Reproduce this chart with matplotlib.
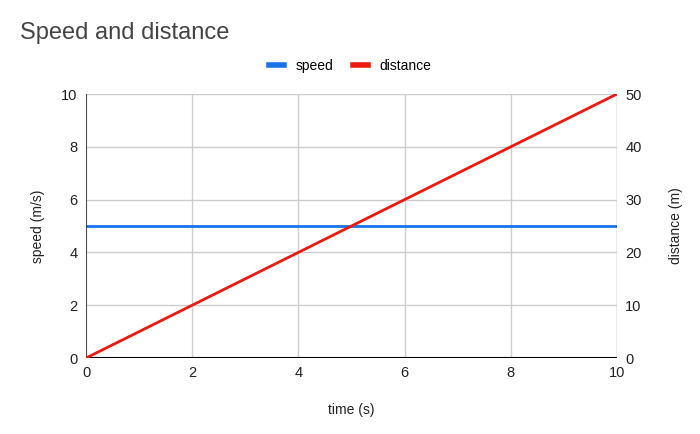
import matplotlib.pyplot as plt
from matplotlib.lines import Line2D

plt.rcParams['font.family'] = ['Liberation Sans', 'DejaVu Sans']

# Data
time_s = [0, 1, 2, 3, 4, 5, 6, 7, 8, 9, 10]
speed = [5, 5, 5, 5, 5, 5, 5, 5, 5, 5, 5]  # m/s
distance = [0, 5, 10, 15, 20, 25, 30, 35, 40, 45, 50]  # m

x_ticks = [0, 2, 4, 6, 8, 10]
left_ticks = [0, 2, 4, 6, 8, 10]
right_ticks = [0, 10, 20, 30, 40, 50]

blue = '#1a73e8'
red = '#ea1a0f'
text_col = '#222222'

fig = plt.figure(figsize=(7, 4.34), dpi=100)
ax = fig.add_axes([0.1229, 0.1751, 0.7585, 0.6083])
ax2 = ax.twinx()

ax.plot(time_s, speed, color=blue, lw=2, zorder=3)
ax2.plot(time_s, distance, color=red, lw=2, zorder=3)

ax.set_xlim(0, 10)
ax.set_ylim(0, 10)
ax2.set_ylim(0, 50)
ax.set_xticks(x_ticks)
ax.set_yticks(left_ticks)
ax2.set_yticks(right_ticks)

ax.grid(True, color='#cccccc', lw=1)
ax.set_axisbelow(True)
ax.axvline(10, color='#cccccc', lw=1, zorder=1)

for a in (ax, ax2):
    for s in ('top', 'right', 'left', 'bottom'):
        a.spines[s].set_visible(False)
    a.tick_params(length=0, labelsize=10.5, colors=text_col, pad=6)

ax.axvline(0, color='#333333', lw=1.2, zorder=4)
ax.axhline(0, color='black', lw=1.5, zorder=4)

ax.set_xlabel('time (s)', fontsize=10, color=text_col, labelpad=16)
ax.set_ylabel('speed (m/s)', fontsize=10, color=text_col, labelpad=12)
ax2.set_ylabel('distance (m)', fontsize=10, color=text_col, labelpad=20)

fig.text(0.029, 0.924, 'Speed and distance', fontsize=17, color='#444444',
         va='center', ha='left')

handles = [Line2D([], [], color=blue, lw=4), Line2D([], [], color=red, lw=4)]
fig.legend(handles, ['speed', 'distance'], loc='center', bbox_to_anchor=(0.5, 0.848),
           ncol=2, frameon=False, fontsize=10, handlelength=1.1,
           handletextpad=0.8, columnspacing=1.4)

fig.savefig('out.png', dpi=100)
